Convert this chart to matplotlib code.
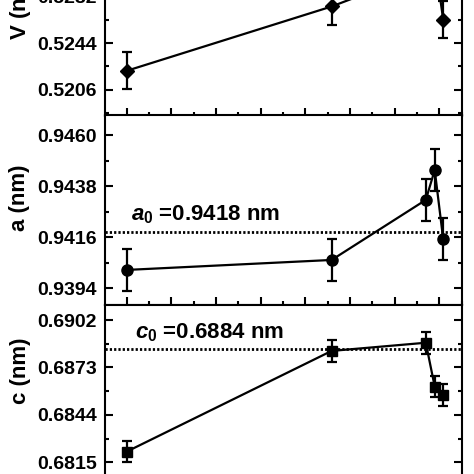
import matplotlib
matplotlib.use('Agg')
import matplotlib.pyplot as plt
from matplotlib.ticker import FixedLocator, FormatStrFormatter

plt.rcParams['font.family'] = 'Liberation Sans'
plt.rcParams['font.weight'] = 'bold'
plt.rcParams['mathtext.fontset'] = 'custom'
plt.rcParams['mathtext.it'] = 'Liberation Sans:italic:bold'
plt.rcParams['mathtext.rm'] = 'Liberation Sans:bold'
plt.rcParams['mathtext.bf'] = 'Liberation Sans:bold'

# data (x in units of the major tick spacing)
x = [0, 4.59, 6.70, 6.90, 7.09]

vol = [0.52215, 0.52738, 0.5303, 0.5312, 0.5263]
vol_err = [0.0015, 0.0015, 0.0015, 0.0015, 0.0015]

a_par = [0.94018, 0.94061, 0.94320, 0.94449, 0.94150]
a_err = [0.0009, 0.0009, 0.0009, 0.0009, 0.0009]
a0 = 0.9418

c_par = [0.68215, 0.68831, 0.68881, 0.68612, 0.68561]
c_err = [0.00066, 0.00066, 0.00066, 0.00066, 0.00066]
c0 = 0.6884

vol_ticks = [0.5168, 0.5206, 0.5244, 0.5282, 0.5320]
a_ticks = [0.9372, 0.9394, 0.9416, 0.9438, 0.9460, 0.9482]
c_ticks = [0.6786, 0.6815, 0.6844, 0.6873, 0.6902, 0.6931]
x_ticks = [0, 1, 2, 3, 4, 5, 6, 7]


def minor_of(ticks):
    return [(t0 + t1) / 2 for t0, t1 in zip(ticks[:-1], ticks[1:])] + \
        [ticks[0] - (ticks[1] - ticks[0]) / 2, ticks[-1] + (ticks[1] - ticks[0]) / 2]


def style_axis(ax, yticks, ylim):
    ax.set_xlim(-0.5, 7.5)
    ax.set_ylim(*ylim)
    ax.xaxis.set_major_locator(FixedLocator(x_ticks))
    ax.xaxis.set_minor_locator(FixedLocator([t + 0.5 for t in x_ticks]))
    ax.yaxis.set_major_locator(FixedLocator(yticks))
    ax.yaxis.set_minor_locator(FixedLocator(minor_of(yticks)))
    ax.yaxis.set_major_formatter(FormatStrFormatter('%.4f'))
    ax.tick_params(which='both', direction='in', left=True, right=True,
                   bottom=True, top=False, labelbottom=False, width=1.5)
    ax.tick_params(which='major', length=5.5, labelsize=14, pad=5.5)
    ax.tick_params(which='minor', length=3)
    for sp in ax.spines.values():
        sp.set_linewidth(1.5)


fig = plt.figure(figsize=(4.74, 4.74), dpi=100)
left = 104.5 / 474
width = 357 / 474
height = 189.4 / 474

# the picture is a crop: top and bottom panels run past the figure edges
ax_v = fig.add_axes([left, (474 - 115.5) / 474, width, height])
ax_a = fig.add_axes([left, (474 - 304.7) / 474, width, height])
ax_c = fig.add_axes([left, (474 - 493.9) / 474, width, height])

eb = dict(color='k', lw=1.6, elinewidth=1.6, capsize=3.8, capthick=1.6)
dotted = (0, (0.8, 0.75))

ax_v.errorbar(x, vol, yerr=vol_err, fmt='-D', ms=6.8, **eb)
style_axis(ax_v, vol_ticks, (0.51851, 0.53392))

ax_a.errorbar(x, a_par, yerr=a_err, fmt='-o', ms=8, **eb)
ax_a.axhline(a0, color='k', lw=2, linestyle=dotted)
style_axis(ax_a, a_ticks, (0.93868, 0.94685))
ax_a.text(0.074, 0.447, r'$a_0$ =0.9418 nm', transform=ax_a.transAxes,
          fontsize=16, ha='left', va='baseline')

ax_c.errorbar(x, c_par, yerr=c_err, fmt='-s', ms=7, **eb)
ax_c.axhline(c0, color='k', lw=2, linestyle=dotted)
style_axis(ax_c, c_ticks, (0.67956, 0.69115))
ax_c.text(0.0854, 0.8215, r'$c_0$ =0.6884 nm', transform=ax_c.transAxes,
          fontsize=16, ha='left', va='baseline')

fig.text(20 / 474, 1 - 40 / 474, r'V (nm$^\mathregular{3}$)', rotation=90,
         ha='center', va='bottom', fontsize=16)
fig.text(19 / 474, 1 - 198 / 474, 'a (nm)', rotation=90,
         ha='center', va='center', fontsize=16)
fig.text(20.5 / 474, 1 - 371 / 474, 'c (nm)', rotation=90,
         ha='center', va='center', fontsize=16)

fig.savefig('out.png', dpi=100)
